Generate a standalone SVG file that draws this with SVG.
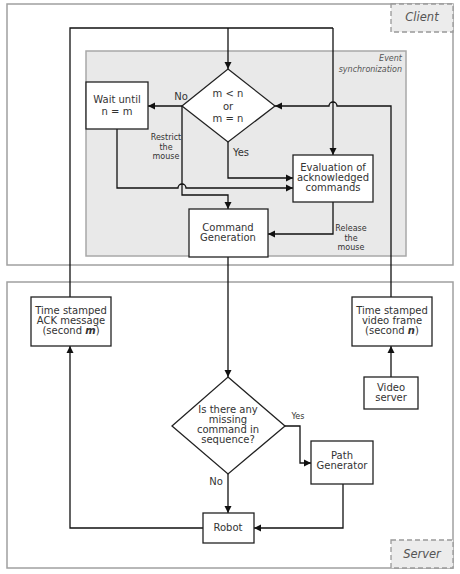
<svg xmlns="http://www.w3.org/2000/svg" width="460" height="574" viewBox="0 0 460 574">
<defs>
<marker id="ah" markerWidth="8" markerHeight="8" refX="7" refY="4" orient="auto" markerUnits="userSpaceOnUse">
<path d="M0,0.5 L7,4 L0,7.5 Z" fill="#111"/>
</marker>
<style>
.zone{fill:#fff;stroke:#a0a0a0;stroke-width:1.5}
.tag{fill:#ececec;stroke:#999;stroke-width:1.3;stroke-dasharray:5,3}
.tagt{font-family:"DejaVu Sans",Verdana,sans-serif;font-size:11.5px;font-style:italic;fill:#555;text-anchor:middle}
.sync{fill:#e9e9e9;stroke:#a8a8a8;stroke-width:1.5}
.synct{font-family:"DejaVu Sans",Verdana,sans-serif;font-size:8px;font-style:italic;fill:#555;text-anchor:end}
.box{fill:#fff;stroke:#222;stroke-width:1.3}
.t{font-family:"DejaVu Sans",Verdana,sans-serif;font-size:10px;fill:#333;text-anchor:middle}
.s{font-family:"DejaVu Sans",Verdana,sans-serif;font-size:8px;fill:#333;text-anchor:middle}
.c{fill:none;stroke:#111;stroke-width:1.3}
.ca{fill:none;stroke:#111;stroke-width:1.3;marker-end:url(#ah)}
</style>
</defs>
<rect width="460" height="574" fill="#fff"/>
<g id="client-zone">
<rect class="zone" x="7" y="4" width="446" height="261"/>
<rect class="tag" x="391" y="4" width="62" height="28"/>
<text class="tagt" x="422" y="21">Client</text>
</g>
<g id="server-zone">
<rect class="zone" x="7" y="282" width="446" height="286"/>
<rect class="tag" x="391" y="540" width="62" height="28"/>
<text class="tagt" x="422" y="558">Server</text>
</g>
<g id="event-sync">
<rect class="sync" x="86" y="51" width="320" height="205"/>
<text class="synct" x="402" y="61">Event</text>
<text class="synct" x="402" y="72">synchronization</text>
</g>
<g id="connectors">
<path class="c" d="M70,297 V28 H333"/>
<path class="ca" d="M228,28 V69"/>
<path class="ca" d="M333,28 V155"/>
<path class="ca" d="M391,297 V106 H337 A4,4 0 0 0 329,106 H275"/>
<path class="ca" d="M183,106 H148"/>
<path class="ca" d="M117,129 V188 H178 A4,4 0 0 1 186,188 H293"/>
<path class="ca" d="M182,106 V195 H228 V209"/>
<path class="ca" d="M228,142 V178 H293"/>
<path class="ca" d="M333,202 V234 H268"/>
<path class="ca" d="M228,257 V377"/>
<path class="ca" d="M391,377 V346"/>
<path class="ca" d="M285,426 H300 V463 H311"/>
<path class="ca" d="M228,474 V513"/>
<path class="ca" d="M343,484 V528 H254"/>
<path class="ca" d="M203,528 H70 V346"/>
<text class="t" x="181" y="100" text-anchor="middle">No</text>
<text class="s" x="166" y="140">Restrict</text>
<text class="s" x="166" y="150">the</text>
<text class="s" x="166" y="159">mouse</text>
<text class="t" x="241" y="156" text-anchor="start">Yes</text>
<text class="s" x="351" y="231">Release</text>
<text class="s" x="351" y="241">the</text>
<text class="s" x="351" y="250">mouse</text>
<text class="s" x="298" y="419" font-size="9">Yes</text>
<text class="t" x="216" y="485">No</text>
</g>
<g id="decision-mn">
<polygon class="box" points="228,69 275,106 228,142 182,106"/>
<text class="t" x="228" y="97">m &lt; n</text>
<text class="t" x="228" y="110">or</text>
<text class="t" x="228" y="122">m = n</text>
</g>
<g id="wait">
<rect class="box" x="86" y="82" width="62" height="47"/>
<text class="t" x="117" y="103">Wait until</text>
<text class="t" x="117" y="115">n = m</text>
</g>
<g id="evaluation">
<rect class="box" x="293" y="155" width="80" height="47"/>
<text class="t" x="333" y="171">Evaluation of</text>
<text class="t" x="333" y="181">acknowledged</text>
<text class="t" x="333" y="191">commands</text>
</g>
<g id="command-generation">
<rect class="box" x="189" y="209" width="79" height="48"/>
<text class="t" x="228" y="231">Command</text>
<text class="t" x="228" y="241">Generation</text>
</g>
<g id="ack-message">
<rect class="box" x="31" y="297" width="80" height="49"/>
<text class="t" x="71" y="314">Time stamped</text>
<text class="t" x="71" y="324">ACK message</text>
<text class="t" x="71" y="334">(second <tspan font-weight="bold" font-style="italic">m</tspan>)</text>
</g>
<g id="video-frame">
<rect class="box" x="352" y="297" width="80" height="49"/>
<text class="t" x="392" y="314">Time stamped</text>
<text class="t" x="392" y="324">video frame</text>
<text class="t" x="392" y="334">(second <tspan font-weight="bold" font-style="italic">n</tspan>)</text>
</g>
<g id="video-server">
<rect class="box" x="364" y="377" width="54" height="32"/>
<text class="t" x="391" y="391">Video</text>
<text class="t" x="391" y="401">server</text>
</g>
<g id="decision-missing">
<polygon class="box" points="228,377 285,426 228,474 172,426"/>
<text class="t" x="228" y="413">Is there any</text>
<text class="t" x="228" y="423">missing</text>
<text class="t" x="228" y="433">command in</text>
<text class="t" x="228" y="443">sequence?</text>
</g>
<g id="path-generator">
<rect class="box" x="311" y="441" width="62" height="43"/>
<text class="t" x="342" y="459">Path</text>
<text class="t" x="342" y="469">Generator</text>
</g>
<g id="robot">
<rect class="box" x="203" y="513" width="51" height="30"/>
<text class="t" x="228" y="531">Robot</text>
</g>
</svg>
